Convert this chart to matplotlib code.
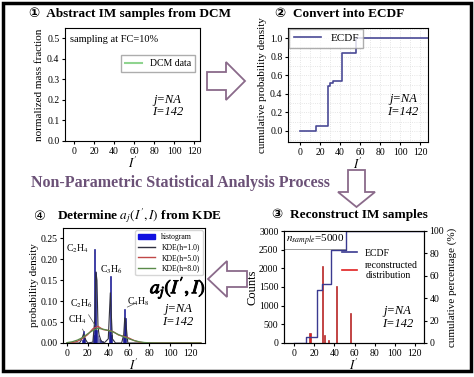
import matplotlib
matplotlib.use("Agg")
import matplotlib.pyplot as plt
import matplotlib.patheffects as pe
import numpy as np
from matplotlib.patches import Polygon, Rectangle, Patch
from matplotlib.lines import Line2D
from matplotlib.ticker import MultipleLocator, FormatStrFormatter

plt.rcParams['font.family'] = ['Liberation Serif', 'DejaVu Sans']
plt.rcParams['mathtext.fontset'] = 'stix'
plt.rcParams['xtick.labelsize'] = 7
plt.rcParams['ytick.labelsize'] = 7
plt.rcParams['xtick.major.size'] = 2.5
plt.rcParams['ytick.major.size'] = 2.5
plt.rcParams['axes.linewidth'] = 0.8

# panel 1: DCM samples
dcm_I = [16, 28, 30, 33, 42, 56]
dcm_frac = [0.055, 0.425, 0.035, 0.02, 0.30, 0.165]

# panel 3: reconstructed samples
rec_I = [16, 28, 30, 34, 42, 56]
rec_counts = [277, 2054, 205, 70, 1518, 804]
rec_ecdf_x = [0, 12, 22.5, 27.5, 36.5, 52, 130]
rec_ecdf_pct = [0, 5.5, 47, 53, 83, 100, 100]

# panel 4: histogram density and KDE curves
hist_x = [15, 16, 17, 26, 27, 28, 29, 30, 31, 32, 34, 41, 42, 43, 55, 56, 57]
hist_y = [0.008, 0.028, 0.012, 0.02, 0.225, 0.17, 0.03, 0.02, 0.012, 0.008, 0.004,
          0.03, 0.16, 0.02, 0.02, 0.082, 0.06]
kde1_x = [0, 12, 14, 16, 18, 20, 25, 27, 28, 29, 30, 31, 33, 36, 40, 42, 44, 47, 53, 55, 56, 57, 59, 130]
kde1_y = [0, 0, 0.008, 0.022, 0.008, 0, 0.002, 0.06, 0.17, 0.15, 0.04, 0.02, 0.005, 0,
          0.01, 0.12, 0.01, 0, 0, 0.02, 0.06, 0.05, 0, 0]
kde_x = [0, 5, 10, 15, 20, 25, 30, 35, 40, 45, 50, 55, 60, 65, 70, 75, 80, 90, 130]
kde5_y = [0, 0.001, 0.004, 0.011, 0.020, 0.034, 0.040, 0.032, 0.030, 0.027, 0.019, 0.016,
          0.012, 0.006, 0.002, 0.0005, 0, 0, 0]
kde8_y = [0.001, 0.003, 0.007, 0.013, 0.022, 0.030, 0.035, 0.033, 0.030, 0.026, 0.020,
          0.015, 0.010, 0.006, 0.003, 0.0012, 0.0004, 0, 0]

W, H = 474, 377
fig = plt.figure(figsize=(W / 100, H / 100), dpi=100)


def rect(l, t, r, b):
    return [l / W, 1 - b / H, (r - l) / W, (b - t) / H]


def px(x, y):
    return (x / W, 1 - y / H)


def ticks_out(ax):
    ax.tick_params(direction='out', pad=1.5)


purple = '#6b5177'
jtext = "j=NA\nI=142"

# ---- panel 1
ax1 = fig.add_axes(rect(65, 28, 200, 141))
ax1.bar(dcm_I, dcm_frac, width=0.7, color='#8fd48f', label='DCM data')
ax1.set_xlim(-9, 126)
ax1.set_ylim(0, 0.55)
ax1.xaxis.set_major_locator(MultipleLocator(20))
ax1.yaxis.set_major_locator(MultipleLocator(0.1))
ticks_out(ax1)
ax1.set_ylabel('normalized mass fraction', fontsize=8, labelpad=2)
ax1.set_xlabel(r"$I'$", fontsize=9, labelpad=0)
ax1.text(0.04, 0.94, 'sampling at FC=10%', transform=ax1.transAxes, fontsize=7.5, va='top')
ax1.legend(handles=[Line2D([], [], color='#8fd48f', lw=1.5, label='DCM data')],
           loc='upper right', bbox_to_anchor=(1.0, 0.80), fontsize=7, fancybox=False,
           edgecolor='#999999', handlelength=1.8)
ax1.text(0.76, 0.31, jtext, transform=ax1.transAxes, fontsize=9, style='italic',
         ha='center', va='center', linespacing=1.1)

# ---- panel 2
ax2 = fig.add_axes(rect(288, 28, 428, 142))
cum = np.cumsum(dcm_frac)
ecdf_x = [0] + dcm_I + [130]
ecdf_y = [0] + list(cum) + [cum[-1]]
ax2.step(ecdf_x, ecdf_y, where='post', color='#4a4a96', lw=1.2, label='ECDF')
ax2.set_xlim(-12, 128)
ax2.set_ylim(-0.12, 1.11)
ax2.xaxis.set_major_locator(MultipleLocator(20))
ax2.xaxis.set_minor_locator(MultipleLocator(10))
ax2.yaxis.set_major_locator(MultipleLocator(0.2))
ax2.yaxis.set_minor_locator(MultipleLocator(0.1))
ax2.grid(which='both', color='#dddddd', ls=':', lw=0.6)
ax2.set_axisbelow(True)
ticks_out(ax2)
ax2.tick_params(which='minor', length=0)
ax2.set_ylabel('cumulative probability density', fontsize=8, labelpad=2)
ax2.set_xlabel(r"$I'$", fontsize=9, labelpad=0)
ax2.legend(loc='upper left', fontsize=8, fancybox=False, edgecolor='#999999',
           borderaxespad=0.1, handlelength=2.5)
ax2.text(0.82, 0.32, jtext, transform=ax2.transAxes, fontsize=9, style='italic',
         ha='center', va='center', linespacing=1.1)

# ---- panel 3
ax3 = fig.add_axes(rect(284, 231, 424, 343))
ax3.bar(rec_I, rec_counts, width=1.5, color='#e02020', edgecolor='#a01010', lw=0.4)
ax3.set_xlim(-10, 129)
ax3.set_ylim(0, 3000)
ax3.xaxis.set_major_locator(MultipleLocator(20))
ax3.yaxis.set_major_locator(MultipleLocator(500))
ticks_out(ax3)
ax3.set_ylabel('Counts', fontsize=9, labelpad=0)
ax3.set_xlabel(r"$I'$", fontsize=9, labelpad=0)
ax3r = ax3.twinx()
ax3r.step(rec_ecdf_x, rec_ecdf_pct, where='post', color='#3a3a90', lw=1.0)
ax3r.set_ylim(0, 100)
ax3r.yaxis.set_major_locator(MultipleLocator(20))
ax3r.tick_params(direction='out', pad=1.5, labelsize=7)
ax3r.set_ylabel('cumulative percentage (%)', fontsize=8, labelpad=2)
ax3.text(0.015, 0.985, r"$n_{sample}$=5000", transform=ax3.transAxes, fontsize=8,
         va='top', ha='left',
         bbox=dict(boxstyle='square,pad=0.15', fc='white', ec='#888888', lw=0.6))
ax3r.legend(handles=[Line2D([], [], color='#3a3a90', lw=1.2, label='ECDF'),
                     Line2D([], [], color='#e02020', lw=1.2, label='reconstructed\ndistribution')],
            loc='upper right', bbox_to_anchor=(1.02, 0.92), fontsize=7, frameon=False,
            handlelength=1.6, labelspacing=0.3)
ax3.text(0.81, 0.23, jtext, transform=ax3.transAxes, fontsize=9, style='italic',
         ha='center', va='center', linespacing=1.1)

# ---- panel 4
ax4 = fig.add_axes(rect(63, 228, 205, 343))
ax4.bar(hist_x, hist_y, width=0.9, color='#1010e0', edgecolor='#101070', lw=0.4)
ax4.plot(kde1_x, kde1_y, color='#303040', lw=0.8)
ax4.plot(kde_x, kde5_y, color='#c04848', lw=0.9)
ax4.plot(kde_x, kde8_y, color='#5a8a4a', lw=0.9)
ax4.set_xlim(-4, 134)
ax4.set_ylim(0, 0.275)
ax4.xaxis.set_major_locator(MultipleLocator(20))
ax4.yaxis.set_major_locator(MultipleLocator(0.05))
ax4.yaxis.set_major_formatter(FormatStrFormatter('%.2f'))
ticks_out(ax4)
ax4.set_ylabel('probability density', fontsize=8, labelpad=1)
ax4.set_xlabel(r"$I'$", fontsize=9, labelpad=0)
ax4.legend(handles=[Patch(color='#1010e0', label='histogram'),
                    Line2D([], [], color='#303040', lw=1, label='KDE(h=1.0)'),
                    Line2D([], [], color='#c04848', lw=1, label='KDE(h=5.0)'),
                    Line2D([], [], color='#5a8a4a', lw=1, label='KDE(h=8.0)')],
           loc='upper right', fontsize=5.5, handlelength=2.2, labelspacing=0.3,
           borderaxespad=0.3)
lab = dict(fontsize=7, ha='center', va='center')
arr = dict(arrowstyle='-', color='#555555', lw=0.5)
ax4.annotate(r"C$_2$H$_4$", xy=(27, 0.215), xytext=(10, 0.226), arrowprops=arr, **lab)
ax4.annotate(r"C$_3$H$_6$", xy=(42, 0.162), xytext=(43, 0.176), **lab)
ax4.annotate(r"C$_2$H$_6$", xy=(29, 0.035), xytext=(14, 0.095), arrowprops=arr, **lab)
ax4.annotate(r"CH$_4$", xy=(16, 0.028), xytext=(10.5, 0.055), arrowprops=arr, **lab)
ax4.annotate(r"C$_4$H$_8$", xy=(56, 0.083), xytext=(69, 0.098), arrowprops=arr, **lab)
bold = [pe.withStroke(linewidth=0.7, foreground='black')]
ax4.text(0.81, 0.48, r"$a_j(I',I)$", transform=ax4.transAxes, fontsize=14,
         ha='center', va='center', path_effects=bold)
ax4.text(0.81, 0.24, jtext, transform=ax4.transAxes, fontsize=9, style='italic',
         ha='center', va='center', linespacing=1.1)

# ---- titles
tkw = dict(fontsize=9.5, fontweight='bold', ha='center', va='center')
fig.text(*px(130, 14), "\u2460  Abstract IM samples from DCM", **tkw)
fig.text(*px(340, 14), "\u2461  Convert into ECDF", **tkw)
fig.text(*px(350, 215), "\u2462  Reconstruct IM samples", **tkw)
fig.text(*px(39, 216), "\u2463", fontsize=9.5, ha='center', va='center', family='DejaVu Sans')
fig.text(*px(139, 216), r"Determine $a_j(I',I)$ from KDE", **tkw)
fig.text(*px(180, 183), "Non-Parametric Statistical Analysis Process", fontsize=11.5,
         fontweight='bold', color=purple, ha='center', va='center')

# ---- arrows
akw = dict(closed=True, fc='white', ec='#8a6a8a', lw=1.3, transform=fig.transFigure)
right_arrow = [(207, 72), (226, 72), (226, 62), (245, 81), (226, 100), (226, 90), (207, 90)]
down_arrow = [(348, 170), (365, 170), (365, 192), (375, 192), (356.5, 207), (338, 192), (348, 192)]
left_arrow = [(247, 271), (227, 271), (227, 261), (208, 279), (227, 297), (227, 287), (247, 287)]
for pts in (right_arrow, down_arrow, left_arrow):
    fig.patches.append(Polygon([px(x, y) for x, y in pts], **akw))

# ---- border
fig.patches.append(Rectangle(px(3, 371), 468 / W, 368 / H, fill=False, ec='black', lw=2.5,
                             transform=fig.transFigure))

fig.savefig('out.png', dpi=100)
